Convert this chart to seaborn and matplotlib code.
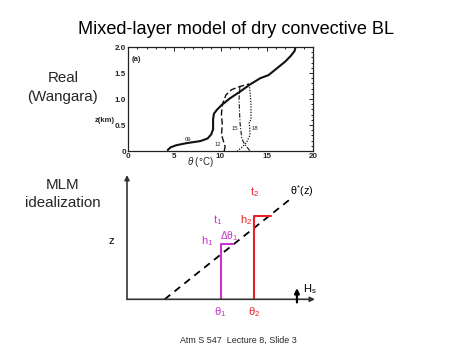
import numpy as np
import pandas as pd
import matplotlib
matplotlib.use("Agg")
import matplotlib.pyplot as plt
import seaborn as sns

# ---------------- data ----------------
# Wangara day 33 potential temperature profiles (theta in degC, z in km)
theta_09 = [4.3, 4.6, 5.2, 6.3, 7.8, 8.6, 9.0, 9.2, 9.2, 9.3, 9.6, 10.1, 11.0, 12.1, 13.2, 14.3, 15.2, 16.1, 17.0, 17.6, 18.0, 18.1]
z_09 = [0.02, 0.07, 0.11, 0.15, 0.19, 0.24, 0.32, 0.42, 0.62, 0.72, 0.79, 0.88, 1.01, 1.14, 1.28, 1.40, 1.46, 1.59, 1.72, 1.83, 1.92, 1.99]
theta_12 = [10.4, 10.5, 10.3, 10.1, 10.2, 10.1, 10.2, 10.6, 11.2, 12.1, 13.1]
z_12 = [0.0, 0.08, 0.20, 0.32, 0.50, 0.70, 0.90, 1.08, 1.18, 1.24, 1.29]
theta_15 = [12.1, 12.0, 12.1, 12.1, 12.3, 12.6, 13.2]
z_15 = [1.24, 0.98, 0.60, 0.56, 0.24, 0.13, 0.0]
theta_18 = [13.1, 13.2, 13.3, 13.3, 13.1, 13.2, 12.8, 12.3, 11.8]
z_18 = [1.28, 1.14, 0.88, 0.60, 0.56, 0.31, 0.16, 0.07, 0.0]
profile_labels = ["09", "12", "15", "18"]

# Mixed-layer model idealization (normalized units)
theta_star_x = [0.20, 0.88]
theta_star_z = [0.0, 0.82]
mlm_theta = [0.498, 0.678]      # mixed-layer theta at t1, t2
mlm_h = [0.446, 0.674]          # mixed-layer depth at t1, t2
mlm_jump = [0.068, 0.088]       # inversion jump width
mlm_colors = ["#cc33cc", "#e8202a"]

# ---------------- figure ----------------
sns.set_theme(style="white")
plt.rcParams["font.family"] = ["Liberation Sans", "DejaVu Sans"]
plt.rcParams["mathtext.fontset"] = "custom"
plt.rcParams["mathtext.rm"] = "Liberation Sans"
plt.rcParams["mathtext.it"] = "Liberation Sans:italic"

W, H = 474, 355
fig = plt.figure(figsize=(W / 100, H / 100), dpi=100)
fig.patch.set_facecolor("white")

def fx(px):
    return px / W

def fy(py):
    return 1 - py / H

fig.text(fx(236), fy(29), "Mixed-layer model of dry convective BL", ha="center", va="center", fontsize=13.1, color="black")
fig.text(fx(63), fy(78), "Real", ha="center", va="center", fontsize=10.9)
fig.text(fx(63), fy(97), "(Wangara)", ha="center", va="center", fontsize=10.9)
fig.text(fx(63), fy(185), "MLM", ha="center", va="center", fontsize=10.9)
fig.text(fx(63), fy(203), "idealization", ha="center", va="center", fontsize=10.9)
fig.text(fx(238.5), fy(340.5), "Atm S 547  Lecture 8, Slide 3", ha="center", va="center", fontsize=6.4)

# ---------------- top: Wangara profiles ----------------
ax1 = fig.add_axes([fx(128), fy(151), (313 - 128) / W, (151 - 47) / H])
profiles = [
    (theta_09, z_09, "-", 1.5),
    (theta_12, z_12, (0, (4.5, 2)), 1.0),
    (theta_15, z_15, (0, (4, 1.5, 1, 1.5)), 0.8),
    (theta_18, z_18, (0, (1, 1.2)), 0.9),
]
for (th, zz, ls, lw), lab in zip(profiles, profile_labels):
    df = pd.DataFrame({"theta": th, "z": zz})
    sns.lineplot(data=df, x="theta", y="z", sort=False, estimator=None, ax=ax1,
                 color="#111111", linewidth=lw, linestyle=ls)

ax1.set_xlim(0, 20)
ax1.set_ylim(0, 2.0)
ax1.set_xticks([0, 5, 10, 15, 20])
ax1.set_xticklabels(["0", "5", "10", "15", "20"])
ax1.set_yticks([0, 0.5, 1.0, 1.5, 2.0])
ax1.set_yticklabels(["0", "0.5", "1.0", "1.5", "2.0"])
ax1.set_xticks(np.arange(0, 20.01, 1), minor=True)
ax1.set_yticks(np.arange(0, 2.001, 0.1), minor=True)
ax1.tick_params(which="both", direction="in", top=True, right=True, color="#222222", width=0.7)
ax1.tick_params(which="major", length=3.0, labelsize=5.8, pad=1.5)
ax1.tick_params(which="minor", length=1.6)
for lbl in ax1.get_xticklabels() + ax1.get_yticklabels():
    lbl.set_fontweight("bold")
for sp in ax1.spines.values():
    sp.set_color("#222222")
    sp.set_linewidth(0.9)
ax1.set_xlabel("")
ax1.set_ylabel("")
ax1.text(-2.5, 0.58, "z(km)", ha="center", va="center", fontsize=5.5, fontweight="bold")
ax1.text(7.8, -0.21, r"$\it{\theta}$ (°C)", ha="center", va="center", fontsize=7)
ax1.text(0.95, 1.76, "(a)", ha="center", va="center", fontsize=5.5, fontweight="bold")
for (x, y), lab in zip([(6.5, 0.22), (9.7, 0.12), (11.6, 0.44), (13.7, 0.44)], profile_labels):
    ax1.text(x, y, lab, ha="center", va="center", fontsize=4.2)

# ---------------- bottom: MLM idealization ----------------
ax2 = fig.add_axes([fx(127), fy(299.3), (315 - 127) / W, (299.3 - 175) / H])
ax2.set_xlim(0, 1)
ax2.set_ylim(0, 1)
for sp in ax2.spines.values():
    sp.set_visible(False)
ax2.set_xticks([])
ax2.set_yticks([])
ax2.annotate("", xy=(1.0, 0), xytext=(0, 0), xycoords="axes fraction",
             arrowprops=dict(arrowstyle="-|>", color="#333333", lw=1.2, mutation_scale=7, shrinkA=0, shrinkB=0))
ax2.annotate("", xy=(0, 1.0), xytext=(0, 0), xycoords="axes fraction",
             arrowprops=dict(arrowstyle="-|>", color="#333333", lw=1.2, mutation_scale=7, shrinkA=0, shrinkB=0))

sns.lineplot(x=theta_star_x, y=theta_star_z, ax=ax2, color="black", linewidth=1.3,
             linestyle=(0, (4, 3)), sort=False, estimator=None)
for th, hh, dj, col in zip(mlm_theta, mlm_h, mlm_jump, mlm_colors):
    sns.lineplot(x=[th, th, th + dj], y=[0, hh, hh], ax=ax2, color=col, linewidth=1.5,
                 sort=False, estimator=None)

mag, red = mlm_colors
ax2.text(0.48, 0.64, r"$\mathrm{t}_1$", color=mag, ha="center", va="center", fontsize=8)
ax2.text(0.424, 0.465, r"$\mathrm{h}_1$", color=mag, ha="center", va="center", fontsize=8)
ax2.text(0.545, 0.51, r"$\mathrm{\Delta\theta}_1$", color=mag, ha="center", va="center", fontsize=7.5)
ax2.text(0.495, -0.10, r"$\mathrm{\theta}_1$", color=mag, ha="center", va="center", fontsize=8)
ax2.text(0.676, 0.86, r"$\mathrm{t}_2$", color=red, ha="center", va="center", fontsize=8)
ax2.text(0.633, 0.64, r"$\mathrm{h}_2$", color=red, ha="center", va="center", fontsize=8)
ax2.text(0.676, -0.10, r"$\mathrm{\theta}_2$", color=red, ha="center", va="center", fontsize=8)
ax2.text(0.93, 0.87, r"$\mathrm{\theta}^{*}$(z)", color="black", ha="center", va="center", fontsize=7.8)
ax2.text(0.975, 0.085, r"$\mathrm{H_s}$", color="black", ha="center", va="center", fontsize=8)
ax2.text(-0.081, 0.47, "z", color="black", ha="center", va="center", fontsize=8)
ax2.annotate("", xy=(0.904, 0.09), xytext=(0.904, -0.025), xycoords="data",
             arrowprops=dict(arrowstyle="-|>", color="black", lw=1.6, mutation_scale=7, shrinkA=0, shrinkB=0),
             annotation_clip=False)

fig.savefig("out.png", dpi=100, facecolor="white")
